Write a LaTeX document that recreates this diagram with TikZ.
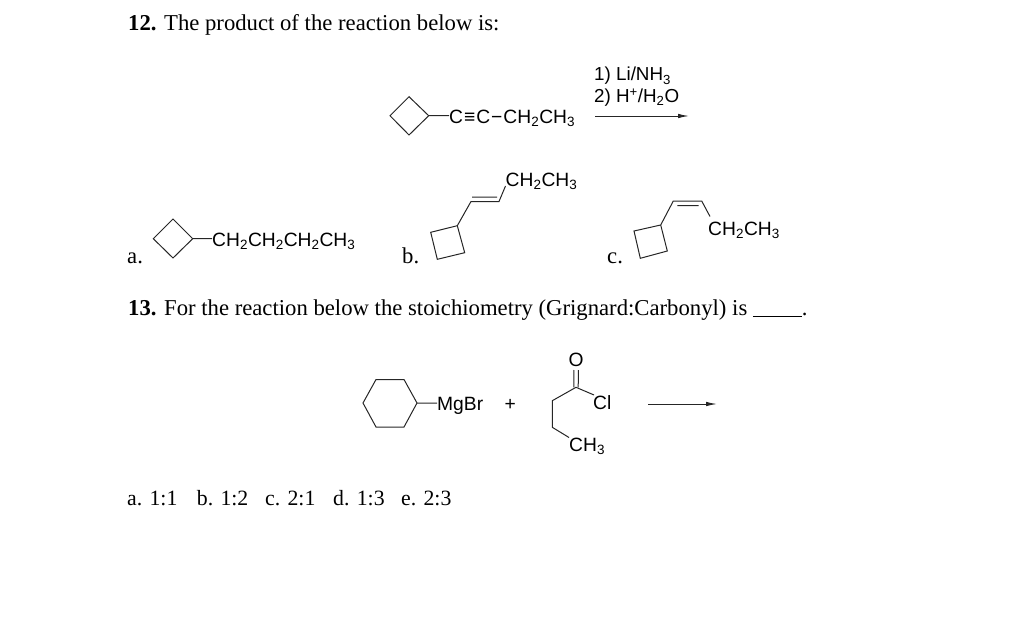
\documentclass[tikz,border=0pt]{standalone}
\usepackage{fontspec}
\setmainfont{Liberation Serif}
\newfontfamily\chemfont{Liberation Sans}
\usetikzlibrary{arrows.meta}
\tikzset{
  qtext/.style={anchor=base west,inner sep=0pt,font=\fontsize{22.7}{26}\selectfont},
  opt/.style={anchor=base west,inner sep=0pt,font=\fontsize{22.7}{26}\selectfont},
  answer/.style={anchor=base west,inner sep=0pt,font=\fontsize{21.8}{26}\selectfont},
  chem/.style={anchor=base west,inner sep=0pt,font=\chemfont\fontsize{19.25}{22}\selectfont},
  reagent/.style={anchor=base west,inner sep=0pt,font=\chemfont\fontsize{18.8}{20}\selectfont},
  bond/.style={draw=black!85,line width=1pt,line join=miter},
  rxarrow/.style={draw=black!85,line width=1pt,-{Latex[length=11pt,width=4.5pt]}}
}
\newcommand{\chemsub}[1]{\textsubscript{#1}}
\begin{document}
\begin{tikzpicture}[x=1pt,y=-1pt]
\useasboundingbox (0,0) rectangle (1024,618);
\node[qtext] (q12) at (128,31) {\textbf{12.} The product of the reaction below is:};
% starting material
\coordinate (sl) at (390,115.7); \coordinate (st) at (409,96.7);
\coordinate (sr) at (428.7,115.7); \coordinate (sb) at (409,135);
\node[chem] (alk) at (449,123.5) {C\kern1pt≡\kern1ptC\kern1pt−\kern1ptCH\chemsub{2}CH\chemsub{3}};
\draw[bond] (sl)--(st)--(sr)--(sb)--cycle (sr)--(alk.base west |- sr);
\node[reagent] (r1) at (594,81) {1) Li/NH\chemsub{3}};
\node[reagent] (r2) at (594,102.5) {2) H\textsuperscript{+}/H\chemsub{2}O};
\coordinate (a1s) at (595,116); \coordinate (a1e) at (689,116);
\draw[rxarrow] (a1s)--(a1e);
% a
\node[opt] (la) at (127,263) {a.};
\coordinate (al) at (153.3,238.7); \coordinate (at) at (173,219);
\coordinate (ar) at (192.7,238.7); \coordinate (ab) at (173,258);
\node[chem] (ca) at (212,246.5) {CH\chemsub{2}CH\chemsub{2}CH\chemsub{2}CH\chemsub{3}};
\draw[bond] (al)--(at)--(ar)--(ab)--cycle (ar)--(ca.base west |- ar);
% b
\node[opt] (lb) at (402,263) {b.};
\coordinate (b1) at (430.7,232.3); \coordinate (b2) at (457.3,225.7);
\coordinate (b3) at (464.7,252.7); \coordinate (b4) at (437.3,259.3);
\coordinate (b5) at (471,201.5); \coordinate (b6) at (499,201.5);
\coordinate (b7) at (472,197); \coordinate (b8) at (497,197);
\node[chem] (cb) at (505.5,186) {CH\chemsub{2}CH\chemsub{3}};
\draw[bond] (b1)--(b2)--(b3)--(b4)--cycle (b2)--(b5)--(b6)--(cb.base west) (b7)--(b8);
% c
\node[opt] (lc) at (607,263) {c.};
\coordinate (c1) at (634,231); \coordinate (c2) at (660.7,225);
\coordinate (c3) at (667.3,251); \coordinate (c4) at (640.3,258.3);
\coordinate (c5) at (673.3,201); \coordinate (c6) at (701.7,201);
\coordinate (c7) at (677.3,205.5); \coordinate (c8) at (698.7,205.5);
\node[chem] (cc) at (708,235.5) {CH\chemsub{2}CH\chemsub{3}};
\draw[bond] (c1)--(c2)--(c3)--(c4)--cycle (c2)--(c5)--(c6)--([xshift=2pt,yshift=19pt]cc.base west) (c7)--(c8);
% 13
\node[qtext] (q13) at (128,315) {\textbf{13.} For the reaction below the stoichiometry (Grignard:Carbonyl) is \rule[-2pt]{49pt}{0.9pt}.};
% hexane
\coordinate (h1) at (363,403); \coordinate (h2) at (376,379.5);
\coordinate (h3) at (404,379.5); \coordinate (h4) at (417,403);
\coordinate (h5) at (404,427); \coordinate (h6) at (376,427);
\node[chem] (mg) at (437,410.5) {MgBr};
\draw[bond] (h1)--(h2)--(h3)--(h4)--(h5)--(h6)--cycle (h4)--(mg.base west |- h4);
\node[chem] (plus) at (504.5,410) {+};
\node[chem] (ox) at (568.5,366) {O};
\node[chem] (cl) at (593,409.5) {Cl};
\node[chem] (me) at (569,451.5) {CH\chemsub{3}};
\coordinate (k1) at (576,387.3); \coordinate (k2) at (552.3,400.7);
\coordinate (k3) at (552.3,427.3);
\draw[bond] ([xshift=1pt,yshift=14.5pt]cl.base west)--(k1)--(k2)--(k3)--([yshift=14pt]me.base west);
\draw[bond] ([xshift=-2.2pt]k1)--([xshift=-2.2pt,yshift=-4pt]ox.base) ([xshift=2.2pt]k1)--([xshift=2.2pt,yshift=-4pt]ox.base);
\coordinate (a2s) at (648,404); \coordinate (a2e) at (717,404);
\draw[rxarrow] (a2s)--(a2e);
\node[answer] (ans) at (127,505) {a. 1:1};
\node[answer] (ansb) at (196.7,505) {b. 1:2};
\node[answer] (ansc) at (265,505) {c. 2:1};
\node[answer] (ansd) at (333,505) {d. 1:3};
\node[answer] (anse) at (401,505) {e. 2:3};
\end{tikzpicture}
\end{document}
